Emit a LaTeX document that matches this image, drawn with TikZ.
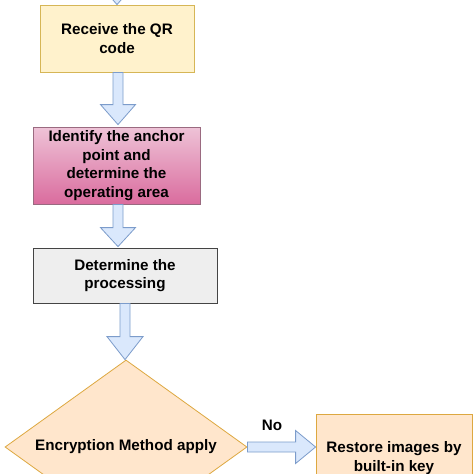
\documentclass[tikz,border=0pt]{standalone}
\usepackage{fontspec}
\setmainfont{Liberation Sans}
\usetikzlibrary{shapes.geometric,calc}
\definecolor{ylwfill}{HTML}{FFF2CC}
\definecolor{ylwline}{HTML}{D6B656}
\definecolor{pinktop}{HTML}{EEC3D7}
\definecolor{pinkbot}{HTML}{DA6C9E}
\definecolor{pinkline}{HTML}{9A6A80}
\definecolor{grayfill}{HTML}{EEEEEE}
\definecolor{grayline}{HTML}{444444}
\definecolor{orgfill}{HTML}{FFE6CC}
\definecolor{orgline}{HTML}{DDA840}
\definecolor{arrfill}{HTML}{DAE8FC}
\definecolor{arrline}{HTML}{7C9CCB}
\newcommand\vblockarrow[4]{%
  \draw[barrow] let \p1=(#1),\p2=(#2) in
    (\x1-5pt,\y1) -- (\x1-5pt,\y2+#3) -- (\x1-#4,\y2+#3) -- (\x1,\y2)
    -- (\x1+#4,\y2+#3) -- (\x1+5pt,\y2+#3) -- (\x1+5pt,\y1) -- cycle;}
\tikzset{
  boxbase/.style={rectangle, align=center, inner sep=0pt, font=\bfseries\fontsize{15.2}{18.7}\selectfont, line width=0.8pt},
  barrow/.style={fill=arrfill, draw=arrline, line width=0.8pt, line join=miter},
  lbl/.style={font=\bfseries\fontsize{15.2}{18}\selectfont, inner sep=0pt}
}
\begin{document}
\begin{tikzpicture}[x=1pt,y=-1pt]
\useasboundingbox (0,0) rectangle (474,474);
\clip (0,0) rectangle (474,474);
\fill[white] (0,0) rectangle (474,474);
\node[boxbase, fill=ylwfill, draw=ylwline, minimum width=154pt, minimum height=67pt] (b1) at (117,38.5) {Receive the QR\\code};
\node[boxbase, top color=pinktop, bottom color=pinkbot, draw=pinkline, minimum width=167pt, minimum height=77pt] (b2) at (116.5,165.5) {Identify the anchor\\point and\\determine the\\operating area};
\node[boxbase, fill=grayfill, draw=grayline, minimum width=184pt, minimum height=55pt] (b3) at (125,275.5) {Determine the\\processing};
\node[diamond, draw=orgline, fill=orgfill, line width=0.8pt, minimum width=242pt, minimum height=174pt, inner sep=0pt] (d) at (126,447) {};
\node[lbl] (dt) at (d.center) {Encryption Method apply};
\node[boxbase, fill=orgfill, draw=orgline, minimum width=156pt, minimum height=88pt] (r) at (394,458) {Restore images by\\built-in key};
\coordinate (top) at (117,-40);
% block arrows
\vblockarrow{top}{b1.north}{20pt}{17.5pt}
\path (b1.south) ++(1,0) coordinate (a1s);
\path (b2.north) ++(0,-2) coordinate (a1t);
\vblockarrow{a1s}{a1t}{20pt}{17.5pt}
\path (b2.south) ++(1.5,0) coordinate (a2s);
\path (b3.north) ++(0,-1) coordinate (a2t);
\vblockarrow{a2s}{a2t}{19pt}{17.5pt}
\vblockarrow{b3.south}{d.north}{23pt}{18pt}
\draw[barrow] let \p1=(d.east),\p2=(r.west) in
  (\x1,\y1+5pt) -- (\x2-20pt,\y1+5pt) -- (\x2-20pt,\y1+16.5pt) -- (\x2,\y1)
  -- (\x2-20pt,\y1-16.5pt) -- (\x2-20pt,\y1-5pt) -- (\x1,\y1-5pt) -- cycle;
\node[lbl] (no) at (272,425) {No};
\end{tikzpicture}
\end{document}
